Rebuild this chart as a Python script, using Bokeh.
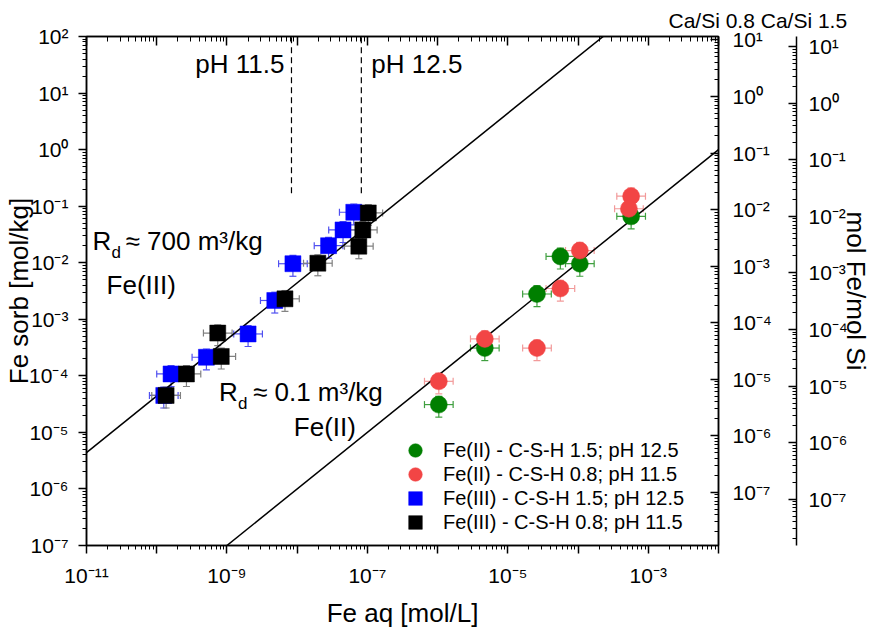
from bokeh.plotting import figure
from bokeh.models import (Range1d, LogScale, LogAxis, FixedTicker, CustomJSTickFormatter,
                          Whisker, ColumnDataSource, Label, Legend, LegendItem, TeeHead)
from bokeh.embed import file_html
from bokeh.resources import INLINE

# ---------------- data ----------------
fe2_csh15_x = [5.7e-4, 5.6e-5, 1.06e-4, 2.6e-5, 4.7e-6, 1.04e-6]
fe2_csh15_y = [6.6e-2, 1.29e-2, 9.6e-3, 2.8e-3, 3.1e-4, 3.1e-5]
fe2_csh08_x = [5.7e-4, 5.3e-4, 1.06e-4, 5.6e-5, 4.7e-6, 2.6e-5, 1.04e-6]
fe2_csh08_y = [1.5e-1, 9.0e-2, 1.64e-2, 3.5e-3, 4.5e-4, 3.1e-4, 8.0e-5]
fe3_csh15_x = [6.4e-8, 4.5e-8, 2.8e-8, 8.7e-9, 4.8e-9, 2.0e-9, 5.1e-10, 1.6e-10, 1.26e-10]
fe3_csh15_y = [7.8e-2, 3.8e-2, 2.0e-2, 9.6e-3, 2.15e-3, 5.5e-4, 2.13e-4, 1.08e-4, 4.5e-5]
fe3_csh08_x = [1.03e-7, 8.6e-8, 7.55e-8, 1.97e-8, 6.7e-9, 7.4e-10, 8.3e-10, 2.65e-10, 1.36e-10]
fe3_csh08_y = [7.6e-2, 3.8e-2, 1.96e-2, 9.8e-3, 2.3e-3, 5.7e-4, 2.2e-4, 1.08e-4, 4.5e-5]

series_labels = ["Fe(II) - C-S-H 1.5; pH 12.5", "Fe(II) - C-S-H 0.8; pH 11.5",
                 "Fe(III) - C-S-H 1.5; pH 12.5", "Fe(III) - C-S-H 0.8; pH 11.5"]

# relative uncertainties
x_err_factor = 1.6
y_err_lower = 0.6
y_err_upper = 1.4

# distribution-coefficient lines (L/kg)
rd_fe3 = 4.4e5
rd_fe2 = 1.0e2
line_x = [1e-11, 1e-2]

# pH marker lines
ph_x = [8.3e-9, 8.2e-8]
ph_y = [0.17, 100]
ph_labels = ["pH 11.5", "pH 12.5"]

# axes
x_lim = (1e-11, 1e-2)
y_lim = (1e-7, 1e2)
r08_lim = (10 ** -7.94, 10 ** 1.06)
r15_lim = (10 ** -7.82, 10 ** 1.18)
x_major = [10.0 ** k for k in range(-11, -1)]
x_minor = [m * 10.0 ** k for k in range(-11, -2) for m in range(2, 10)]
y_major = [10.0 ** k for k in range(-7, 3)]
y_minor = [m * 10.0 ** k for k in range(-7, 2) for m in range(2, 10)]
r_major = [10.0 ** k for k in range(-7, 2)]
r_minor = [m * 10.0 ** k for k in range(-8, 2) for m in range(2, 10)]
top_title = "Ca/Si 0.8 Ca/Si 1.5"

FONT = "Liberation Sans"

SUP = """
const sup = {'-':'\u207B','0':'\u2070','1':'\u00B9','2':'\u00B2','3':'\u00B3','4':'\u2074',
             '5':'\u2075','6':'\u2076','7':'\u2077','8':'\u2078','9':'\u2079'};
const e = Math.round(Math.log10(tick));
%s
return '10' + String(e).split('').map(c => sup[c]).join('');
"""
fmt_all = CustomJSTickFormatter(code=SUP % "")
fmt_odd = CustomJSTickFormatter(code=SUP % "if (Math.abs(e) % 2 === 0) { return ''; }")
fmt_none = CustomJSTickFormatter(code="return '';")

p = figure(x_axis_type="log", y_axis_type="log",
           x_range=Range1d(*x_lim), y_range=Range1d(*y_lim),
           frame_width=632, frame_height=509,
           min_border_left=86, min_border_right=154, min_border_top=36, min_border_bottom=80,
           output_backend="svg", toolbar_location=None)
p.xgrid.visible = False
p.ygrid.visible = False
p.outline_line_color = "black"
p.outline_line_width = 1.5
p.background_fill_color = "white"
p.border_fill_color = "white"

p.title.text = top_title
p.title.align = "left"
p.title.offset = 582
p.title.text_font = FONT
p.title.text_font_size = "21px"
p.title.text_font_style = "normal"
p.title.text_color = "black"
p.title.standoff = 9


def style_axis(ax, size="21px"):
    ax.axis_line_color = "black"
    ax.axis_line_width = 1.5
    ax.major_tick_line_color = "black"
    ax.minor_tick_line_color = "black"
    ax.major_tick_line_width = 1.5
    ax.minor_tick_line_width = 1
    ax.major_label_text_font = FONT
    ax.major_label_text_font_size = size
    ax.major_label_text_color = "black"
    ax.axis_label_text_font = FONT
    ax.axis_label_text_font_size = "26px"
    ax.axis_label_text_font_style = "normal"
    ax.axis_label_text_color = "black"


xa = p.xaxis[0]
style_axis(xa)
xa.ticker = FixedTicker(ticks=x_major, minor_ticks=x_minor)
xa.formatter = fmt_odd
xa.major_tick_out = 8
xa.major_tick_in = 0
xa.minor_tick_out = 4
xa.minor_tick_in = 0
xa.major_label_standoff = 10
xa.axis_label = "Fe aq [mol/L]"
xa.axis_label_standoff = 8

ya = p.yaxis[0]
style_axis(ya)
ya.ticker = FixedTicker(ticks=y_major, minor_ticks=y_minor)
ya.formatter = fmt_all
ya.major_tick_out = 8
ya.major_tick_in = 0
ya.minor_tick_out = 4
ya.minor_tick_in = 0
ya.major_label_standoff = 10
ya.axis_label = "Fe sorb [mol/kg]"
ya.axis_label_standoff = -8

top = LogAxis(ticker=FixedTicker(ticks=x_major, minor_ticks=x_minor), formatter=fmt_none)
style_axis(top, "1px")
top.major_tick_in = 9
top.major_tick_out = 0
top.minor_tick_in = 5
top.minor_tick_out = 0
top.major_label_standoff = 0
p.add_layout(top, "above")

p.extra_y_ranges = {"r08": Range1d(*r08_lim), "r15": Range1d(*r15_lim)}
p.extra_y_scales = {"r08": LogScale(), "r15": LogScale()}

r1 = LogAxis(y_range_name="r08", ticker=FixedTicker(ticks=r_major, minor_ticks=r_minor),
             formatter=fmt_all)
style_axis(r1)
r1.major_tick_in = 8
r1.major_tick_out = 0
r1.minor_tick_in = 4
r1.minor_tick_out = 0
r1.major_label_standoff = 14
r1.axis_label = " "
r1.axis_label_text_font_size = "20px"
r1.axis_label_standoff = -3
p.add_layout(r1, "right")

r2 = LogAxis(y_range_name="r15", ticker=FixedTicker(ticks=r_major, minor_ticks=r_minor),
             formatter=fmt_all)
style_axis(r2)
r2.major_tick_in = 8
r2.major_tick_out = 0
r2.minor_tick_in = 4
r2.minor_tick_out = 0
r2.major_label_standoff = 12
r2.axis_label = "mol Fe/mol Si"
r2.axis_label_standoff = -10
p.add_layout(r2, "right")

# ---------------- lines ----------------
p.line(line_x, [rd_fe3 * v for v in line_x], line_color="black", line_width=1.5)
p.line(line_x, [rd_fe2 * v for v in line_x], line_color="black", line_width=1.5)
for xv in ph_x:
    p.line([xv, xv], ph_y, line_color="black", line_width=1.2, line_dash="6 4")

# ---------------- series ----------------
series = [
    (fe2_csh15_x, fe2_csh15_y, "circle", 17, "#007F00", "#3F9F3F"),
    (fe2_csh08_x, fe2_csh08_y, "circle", 17, "#F24545", "#F29A9A"),
    (fe3_csh15_x, fe3_csh15_y, "square", 16, "#0000FF", "#5050F0"),
    (fe3_csh08_x, fe3_csh08_y, "square", 16, "#000000", "#808080"),
]
renderers = []
for xs, ys, marker, size, col, ecol in series:
    src = ColumnDataSource(dict(
        x=xs, y=ys,
        xl=[v / x_err_factor for v in xs], xu=[v * x_err_factor for v in xs],
        yl=[v * y_err_lower for v in ys], yu=[v * y_err_upper for v in ys]))
    p.add_layout(Whisker(base="y", lower="xl", upper="xu", dimension="width", source=src,
                         line_color=ecol, line_width=1.2,
                         upper_head=TeeHead(size=7, line_color=ecol, line_width=1.2),
                         lower_head=TeeHead(size=7, line_color=ecol, line_width=1.2)))
    p.add_layout(Whisker(base="x", lower="yl", upper="yu", dimension="height", source=src,
                         line_color=ecol, line_width=1.2,
                         upper_head=TeeHead(size=7, line_color=ecol, line_width=1.2),
                         lower_head=TeeHead(size=7, line_color=ecol, line_width=1.2)))
    r = p.scatter("x", "y", source=src, marker=marker, size=size,
                  fill_color=col, line_color=col, line_width=0.5)
    renderers.append(r)

# one single-entry legend per series, stacked 24 px apart
ROW = 24
for i, (label_text, r) in enumerate(zip(series_labels, renderers)):
    lg = Legend(items=[LegendItem(label=label_text, renderers=[r])],
                location=(312, 6 + ROW * (len(renderers) - 1 - i)), padding=0, margin=0,
                glyph_height=34, glyph_width=34, label_standoff=11,
                label_text_font=FONT, label_text_font_size="20px", label_text_color="black",
                label_height=24, border_line_color=None, background_fill_alpha=0)
    p.add_layout(lg)

# ---------------- text annotations ----------------
def lab(x, y, text, size="26px", **kw):
    p.add_layout(Label(x=x, y=y, text=text, text_font=FONT, text_font_size=size,
                       text_color="black", **kw))

lab(ph_x[0], 18, ph_labels[0], text_align="right", x_offset=-7)
lab(ph_x[1], 18, ph_labels[1], text_align="left", x_offset=10)

lab(1.22e-11, 1.29e-2, "R")
lab(1.22e-11, 1.29e-2, "d", size="17px", x_offset=19, y_offset=-6)
lab(1.22e-11, 1.29e-2, "\u2248 700 m\u00B3/kg", x_offset=33)
lab(1.93e-11, 2.15e-3, "Fe(III)")

lab(7.7e-10, 2.8e-5, "R")
lab(7.7e-10, 2.8e-5, "d", size="17px", x_offset=19, y_offset=-6)
lab(7.7e-10, 2.8e-5, "\u2248 0.1 m\u00B3/kg", x_offset=34)
lab(8.95e-9, 6.9e-6, "Fe(II)")

open("out.html", "w", encoding="utf-8").write(file_html(p, INLINE))
